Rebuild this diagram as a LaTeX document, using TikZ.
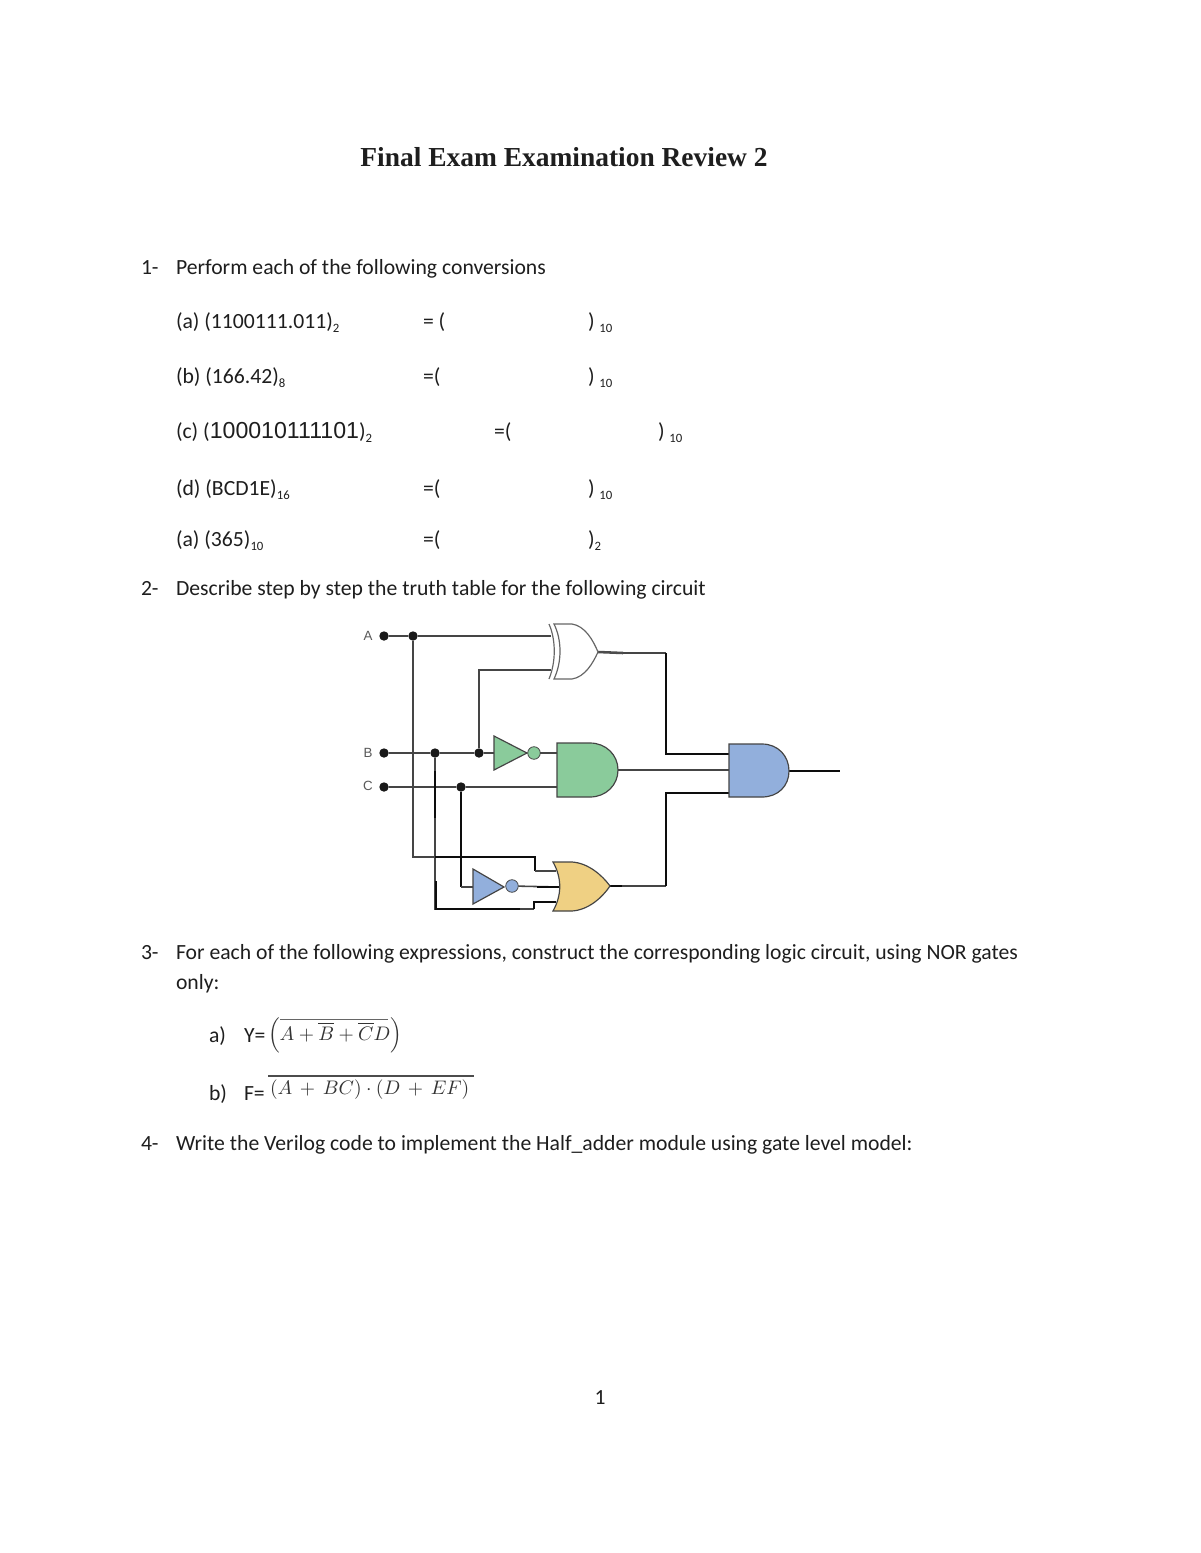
\documentclass[tikz,border=0pt]{standalone}
\usepackage{fontspec}
\setmainfont{Carlito}
\newfontfamily\titlefont{Liberation Serif}
\newfontfamily\labelfont{Liberation Sans}
\definecolor{wirec}{HTML}{454545}
\definecolor{gatec}{HTML}{444444}
\definecolor{greenc}{HTML}{8ACB9B}
\definecolor{bluec}{HTML}{92AFDC}
\definecolor{yellowc}{HTML}{EFD083}
\definecolor{txt}{HTML}{1E1E1E}
\newcommand{\low}[1]{\raisebox{-2.2pt}{\fontsize{6.5}{8}\selectfont #1}}
\tikzset{
  x=0.51pt,y=-0.51pt,
  txtnode/.style={anchor=base west,inner sep=0pt,outer sep=0pt,font=\fontsize{11.05}{13}\selectfont,text=txt},
  pinlabel/.style={inner sep=0pt,font=\labelfont\fontsize{6.8}{7}\selectfont,text=black!65},
  dotnode/.style={circle,fill=black!90,draw=none,minimum size=4.8pt,inner sep=0pt,outer sep=0pt},
  wire/.style={draw=wirec,line width=0.8pt},
  heavy/.style={draw=black!95,line width=1.5pt},
  gateline/.style={draw=gatec,line width=0.6pt},
  bubble/.style={circle,draw=gatec,line width=0.4pt,minimum size=6.4pt,inner sep=0pt,outer sep=0pt}
}
\begin{document}
\begin{tikzpicture}
\useasboundingbox[fill=white] (0,0) rectangle (1200,1553);
% title and text
\node[anchor=base,inner sep=0pt,font=\titlefont\bfseries\fontsize{14}{16}\selectfont,text=txt] (title) at (564,167) {Final Exam Examination Review 2};
\node[txtnode] (n1) at (141,274) {1-};
\node[txtnode] (t1) at (176,274) {Perform each of the following conversions};
\node[txtnode] (a1) at (176,328) {(a) (1100111.011)\low{2}};
\node[txtnode] (a2) at (423,328) {= (};
\node[txtnode] (a3) at (588,328) {) \low{10}};
\node[txtnode] (b1) at (176,383) {(b) (166.42)\low{8}};
\node[txtnode] (b2) at (423,383) {=(};
\node[txtnode] (b3) at (588,383) {) \low{10}};
\node[txtnode] (c1) at (176,438) {(c) ({\labelfont\fontsize{11.8}{13}\selectfont 100010111101})\low{2}};
\node[txtnode] (c2) at (494,438) {=(};
\node[txtnode] (c3) at (658,438) {) \low{10}};
\node[txtnode] (d1) at (176,495) {(d) (BCD1E)\low{16}};
\node[txtnode] (d2) at (423,495) {=(};
\node[txtnode] (d3) at (588,495) {) \low{10}};
\node[txtnode] (e1) at (176,546) {(a) (365)\low{10}};
\node[txtnode] (e2) at (423,546) {=(};
\node[txtnode] (e3) at (588,546) {)\low{2}};
\node[txtnode] (n2) at (141,595) {2-};
\node[txtnode] (t2) at (176,595) {Describe step by step the truth table for the following circuit};
\node[txtnode] (n3) at (141,959) {3-};
\node[txtnode] (t3) at (176,959) {For each of the following expressions, construct the corresponding logic circuit, using NOR gates};
\node[txtnode] (t3b) at (176,989) {only:};
\node[txtnode] (fa) at (209,1042) {a)};
\node[txtnode] (fay) at (244,1042) {Y=};
\node[txtnode,text=black!80,font=\fontsize{10}{12}\selectfont] (fax) at (268,1040) {$\Bigl(A+\overline{B}+\overline{C}D\Bigr)$};
\node[txtnode] (fb) at (209,1100) {b)};
\node[txtnode] (fby) at (244,1100) {F=};
\node[txtnode,text=black!80,font=\fontsize{10.3}{12}\selectfont] (fbx) at (270,1094) {$(A\,+\,BC)\cdot(D\,+\,EF)$};
\coordinate (fal) at (280,1019); \coordinate (far) at (388,1019);
\coordinate (fbl) at (268,1076); \coordinate (fbr) at (474,1076);
\draw[draw=black!60,line width=0.5pt] (fal) -- (far);
\draw[draw=black!70,line width=0.7pt] (fbl) -- (fbr);
\node[txtnode] (n4) at (141,1150) {4-};
\node[txtnode] (t4) at (176,1150) {Write the Verilog code to implement the Half\_adder module using gate level model:};
\node[anchor=base,inner sep=0pt,font=\fontsize{11}{13}\selectfont,text=txt] (pg) at (600,1404) {1};
% circuit: labels and junctions
\node[pinlabel] (la) at (368,636) {A};
\node[pinlabel] (lb) at (368,753) {B};
\node[pinlabel] (lc) at (368,786) {C};
\node[dotnode] (A) at (384,636) {};
\node[dotnode] (Aj) at (413,636) {};
\node[dotnode] (B) at (384,753) {};
\node[dotnode] (Bj) at (435,753) {};
\node[dotnode] (Bk) at (479,753) {};
\node[dotnode] (C) at (384,787) {};
\node[dotnode] (Cj) at (461,787) {};
% gate pins
\coordinate (xa) at (551,636);
\coordinate (xb) at (551,670);
\coordinate (xo) at (598,652);
\coordinate (xt) at (623,653);
\coordinate (ni) at (494,753);
\coordinate (ai) at (557,753);
\coordinate (ac) at (557,787);
\coordinate (ao) at (618,770);
\coordinate (bi1) at (729,754);
\coordinate (bi2) at (729,770);
\coordinate (bi3) at (729,793);
\coordinate (bo) at (789,771);
\coordinate (out) at (840,771);
\coordinate (oa) at (556,871);
\coordinate (ob) at (559,887);
\coordinate (oc) at (556,902);
\coordinate (oo) at (610,886);
\coordinate (ot) at (622,886);
\coordinate (mi) at (473,887);
% wires
\draw[wire] (A) -- (Aj) -- (xa);
\draw[wire] (Aj) |- (535,857) coordinate (acorner);
\draw[wire] (Bk) |- (xb);
\draw[wire] (B) -- (Bj) -- (Bk) -- (ni);
\draw[wire] (C) -- (Cj) -- (ac);
\draw[wire] (Bj) |- (534,909) coordinate (bcorner);
\draw[heavy] (435,771) -- (435,818);
\draw[heavy] (436,881) |- (520,909);
\draw[heavy] (534,909) -- (534,902) -- (556,902);
\draw[heavy] (435,857) -- (acorner) -- (535,871);
\draw[wire] (535,871) -- (oa);
\draw[heavy] (Cj) |- (461,887);
\draw[wire] (461,887) -- (mi);
\draw[wire] (ao) -- (bi2);
\draw[wire] (ot) -- (666,886) coordinate (ocorner);
\draw[heavy] (ocorner) |- (bi3);
\draw[wire] (xt) -- (666,653) coordinate (xcorner);
\draw[heavy] (xcorner) |- (bi1);
\draw[heavy] (bo) -- (out);
\draw[draw=black!70,line width=1.3pt] (xo) -- (xt);
\draw[heavy] (oo) -- (ot);
% XOR
\draw[draw=black!60,line width=0.6pt,fill=white] (554,624) -- (572,624) .. controls (585,626) and (593,640) .. (598,652) .. controls (593,663) and (585,677) .. (572,679) -- (554,679) .. controls (562,662) and (562,640) .. (554,624) -- cycle;
\draw[draw=black!60,line width=0.6pt] (549,624) .. controls (556,640) and (556,662) .. (549,679);
% green NOT and AND
\draw[gateline,fill=greenc] (ni) ++(0,-17) -- (527,753) -- (494,770) -- cycle;
\node[bubble,fill=greenc] (gb) at (534,753) {};
\draw[wire] (gb) -- (ai);
\draw[gateline,fill=greenc] (557,743) -- (590,743) .. controls (606,743) and (618,755) .. (618,770) .. controls (618,785) and (606,797) .. (590,797) -- (557,797) -- cycle;
% blue NOT and AND
\draw[gateline,fill=bluec] (mi) ++(0,-18) -- (504,887) -- (473,904) -- cycle;
\node[bubble,fill=bluec] (bb) at (512,886) {};
\draw[wire] (bb) -- (ob);
\draw[heavy] (537,887) -- (ob);
\draw[gateline,fill=bluec] (729,744) -- (762,744) .. controls (778,744) and (789,756) .. (789,771) .. controls (789,786) and (778,797) .. (762,797) -- (729,797) -- cycle;
% yellow OR
\draw[gateline,fill=yellowc] (553,862) -- (572,862) .. controls (588,863) and (602,875) .. (610,886) .. controls (602,898) and (588,910) .. (572,911) -- (553,911) .. controls (562,895) and (562,878) .. (553,862) -- cycle;
\end{tikzpicture}
\end{document}
